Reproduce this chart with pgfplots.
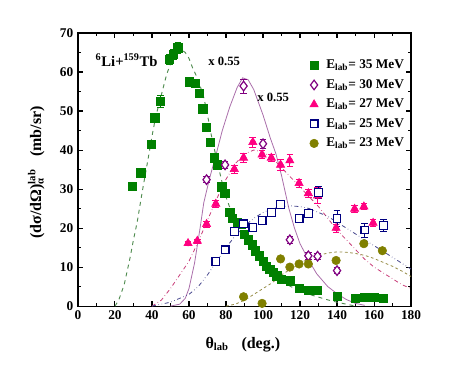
\documentclass[border=0pt]{standalone}
\usepackage{fontspec}
\setmainfont{Liberation Serif}
\usepackage{pgfplots}
\usepackage{pgfplotstable}
\pgfplotsset{compat=1.18}
\definecolor{cg}{RGB}{0,128,0}
\definecolor{cp}{RGB}{128,0,128}
\definecolor{ck}{RGB}{255,0,128}
\definecolor{cn}{RGB}{0,0,128}
\definecolor{co}{RGB}{128,128,0}
\definecolor{lg}{RGB}{80,140,80}
\definecolor{lp}{RGB}{170,110,170}
\definecolor{lk}{RGB}{200,60,120}
\definecolor{ln}{RGB}{70,70,140}
\definecolor{lo}{RGB}{150,140,70}

\pgfplotstableread{
x y e
29.5 30.7 0
34 34.2 0
39.5 41.5 0
41.5 48.3 0
44.5 52.5 1.5
49.5 63.3 1.3
51.5 64.5 1.3
54 66.2 1.5
60 57.5 1
63.5 57.2 1
65.5 54.5 0.8
67.5 50.6 0
69.5 45.8 0
71.5 42 0
73.5 38 0
75.2 36.2 0
77.7 30.6 0
79.4 29 0
82 24.1 0
83.5 22.5 0
86 21.4 0
88 21 0
90 18.5 0
92 17 0
94 15.7 0
96 14.2 0
98 12.9 0
100 11.4 0
101.6 10.3 0
103.7 9.4 0
105.5 8.6 0
107.4 7.8 0
109.7 6.9 0
114.6 6.5 0
119.6 4.5 0
124.5 4.1 0
129 4.1 0
140 2.6 0
150 2 0
155 2.2 0
160 2.2 0
165 2 0
}\greenT

\pgfplotstableread{
x y e
69.5 32.4 0.8
79.5 36.2 0.8
89.5 56.4 1.8
100 41.6 1.2
114.5 17 0.8
124.5 12.9 0.8
129.5 12.8 0.8
140 9.1 0.8
}\purpleT

\pgfplotstableread{
x y e
59.5 16.1 0.5
64.5 16.7 0.5
69.5 21 0.8
74.5 26.2 0.8
84.5 35.1 1
89.5 38 1.2
94.5 42 1.2
99.5 38.8 1
104.5 38 1
109.5 36.2 1.5
114.5 37.3 1.5
119.5 31.5 1
124.5 28.9 1
129.5 28.3 2
139.5 20 1
149.5 24.9 0.8
154.5 25.5 0.8
159.5 21.3 0.8
}\pinkT

\pgfplotstableread{
x y e
74.5 11.5 0
79.5 14.4 0
84.5 19.1 0
89.5 21.1 0
94.5 20.2 0
99.5 22 0
104.5 24 0
109.5 26 0.5
119.5 22.5 0
124.5 23.8 0
130 29.1 1.5
140 22.5 2
155 19.5 1.8
165 20.7 1.5
}\navyT

\pgfplotstableread{
x y
89.5 2.4
99.5 0.7
109.5 12.1
114.5 10
119.5 10.8
124.5 10.8
139.5 11.7
154.5 16
164.5 14.2
}\oliveT

\begin{document}
\begin{tikzpicture}
\path[use as bounding box] (-58.5pt,-48pt) rectangle (297.25pt,229.75pt);
\begin{axis}[
  at={(0,0)}, anchor=south west, scale only axis,
  width=250pt, height=205pt,
  xmin=0, xmax=180, ymin=0, ymax=70,
  xtick={0,20,...,180}, ytick={0,10,...,70},
  minor x tick num=1, minor y tick num=1,
  tick align=inside, major tick length=4pt, minor tick length=2.5pt,
  axis line style={line width=0.9pt},
  every tick/.style={black, line width=0.8pt},
  /pgf/number format/assume math mode=true,
  ticklabel style={font=\fontsize{10}{12}\selectfont\bfseries},
  xlabel={θ\textsubscript{lab}\hspace{0.8em}(deg.)},
  ylabel={(dσ/dΩ)\rlap{\textsuperscript{lab}}\textsubscript{α}\hspace{1.3em}(mb/sr)},
  label style={font=\fontsize{12}{14}\selectfont\bfseries},
  xlabel style={at={(axis description cs:0.495,-0.14)}, anchor=center},
  ylabel style={at={(axis description cs:-0.125,0.49)}, anchor=center},
  legend style={at={(axis cs:123,64.5)}, anchor=north west, draw=none, fill=none,
    font=\fontsize{10}{11}\selectfont\bfseries, row sep=2.5pt},
  legend cell align=left,
]
% fit curves
\addplot[lg, dashed, line width=0.7pt, forget plot] coordinates {
(20,0) (22,1.5) (25,5.5) (28,12) (30,17) (32,21.5) (35,30) (38,38) (40,43.5) (42,48.5) (45,54) (48,59.5) (50,62) (52,64.5) (55,66) (58,65) (60,63.5) (62,61) (64,59) (66,56.5) (68,53.5) (70,49) (72,44) (75,37.5) (78,31.5) (80,28) (83,24) (86,21) (90,17.5) (95,14) (100,11) (105,8.5) (110,6.5) (115,5) (120,4) (125,3) (130,2.3) (135,1.6) (140,1) (145,0.5) (150,0)};
\addplot[lp, line width=0.6pt, forget plot] coordinates {
(50,0) (55,0.5) (58,2) (60,4.5) (63,11) (66,20) (68,26.5) (71,32.5) (75,39.5) (78,45) (82,51) (86,56) (89,58.5) (92,58) (95,55.5) (100,49) (104,43) (107,39) (110,33.5) (114,25) (117,20) (120,16) (125,11.5) (129,8.3) (135,5) (140,3.2) (145,1.7) (150,0.7) (155,0.2)};
\addplot[lk, dash dot, line width=0.6pt, forget plot] coordinates {
(40,0) (45,1.5) (50,4.5) (55,8) (60,11.5) (65,16.5) (70,22) (75,27.5) (80,32.5) (85,36.5) (90,39) (95,40) (100,39.5) (105,38) (110,35.5) (115,33) (120,30.5) (125,28) (130,25.5) (135,22.5) (140,19.5) (145,17) (150,14.5) (155,12) (160,10) (165,8.5) (170,7) (175,5.5) (180,4.5)};
\addplot[ln, dash dot dot, line width=0.6pt, forget plot] coordinates {
(40,0) (50,1) (60,3) (65,5) (70,8) (75,11.5) (80,15) (85,18) (90,20.5) (95,22.5) (100,24) (105,25) (110,25.5) (115,25.7) (120,25.5) (125,25) (130,24) (135,23) (140,21.5) (145,20) (150,18.5) (155,17) (160,15.5) (165,14) (170,12.5) (175,11) (180,9.5)};
\addplot[lo, dashed, dash pattern=on 2pt off 2pt, line width=0.6pt, forget plot] coordinates {
(80,0) (85,0.5) (90,1.5) (95,3) (100,4.5) (105,6) (110,8) (115,9.5) (120,11) (125,12.2) (130,13) (135,13.6) (140,13.9) (145,13.8) (150,13.5) (155,13) (160,12.2) (165,11.2) (170,10.2) (175,9) (180,7.6)};
% error bars
\addplot[only marks, mark=none, cg, forget plot, error bars/.cd, y dir=both, y explicit, error bar style={line width=0.6pt}, error mark options={rotate=90, mark size=2.5pt, line width=0.6pt}] table[x=x,y=y,y error=e]{\greenT};
\addplot[only marks, mark=none, cp, forget plot, error bars/.cd, y dir=both, y explicit, error bar style={line width=0.6pt}, error mark options={rotate=90, mark size=2.5pt, line width=0.6pt}] table[x=x,y=y,y error=e]{\purpleT};
\addplot[only marks, mark=none, ck, forget plot, error bars/.cd, y dir=both, y explicit, error bar style={line width=0.6pt}, error mark options={rotate=90, mark size=2.5pt, line width=0.6pt}] table[x=x,y=y,y error=e]{\pinkT};
\addplot[only marks, mark=none, cn, forget plot, error bars/.cd, y dir=both, y explicit, error bar style={line width=0.6pt}, error mark options={rotate=90, mark size=2.5pt, line width=0.6pt}] table[x=x,y=y,y error=e]{\navyT};
% markers
\addplot[only marks, mark=square*, cg, mark options={fill=cg}, mark size=3.1pt] table[x=x,y=y]{\greenT};
\addlegendentry{\hspace{4pt}E\textsubscript{lab}= 35 MeV}
\addplot[only marks, mark=diamond*, cp, mark options={fill=white, line width=0.9pt}, mark size=3.6pt] table[x=x,y=y]{\purpleT};
\addlegendentry{\hspace{4pt}E\textsubscript{lab}= 30 MeV}
\addplot[only marks, mark=triangle*, ck, mark options={fill=ck}, mark size=3.6pt] table[x=x,y=y]{\pinkT};
\addlegendentry{\hspace{4pt}E\textsubscript{lab}= 27 MeV}
\addplot[only marks, mark=square*, cn, mark options={fill=white, line width=0.9pt}, mark size=2.9pt] table[x=x,y=y]{\navyT};
\addlegendentry{\hspace{4pt}E\textsubscript{lab}= 25 MeV}
\addplot[only marks, mark=*, co, mark options={fill=co}, mark size=3.2pt] table[x=x,y=y]{\oliveT};
\addlegendentry{\hspace{4pt}E\textsubscript{lab}= 23 MeV}
% annotations
\node[font=\fontsize{11}{13}\selectfont\bfseries, anchor=base west] at (axis cs:7,61.5) {\textsuperscript{6}Li+\textsuperscript{159}Tb};
\node[font=\fontsize{9.5}{10}\selectfont\bfseries] at (axis cs:79,62.7) {x 0.55};
\node[font=\fontsize{9.5}{10}\selectfont\bfseries] at (axis cs:105.5,53.5) {x 0.55};
\end{axis}
\end{tikzpicture}
\end{document}
